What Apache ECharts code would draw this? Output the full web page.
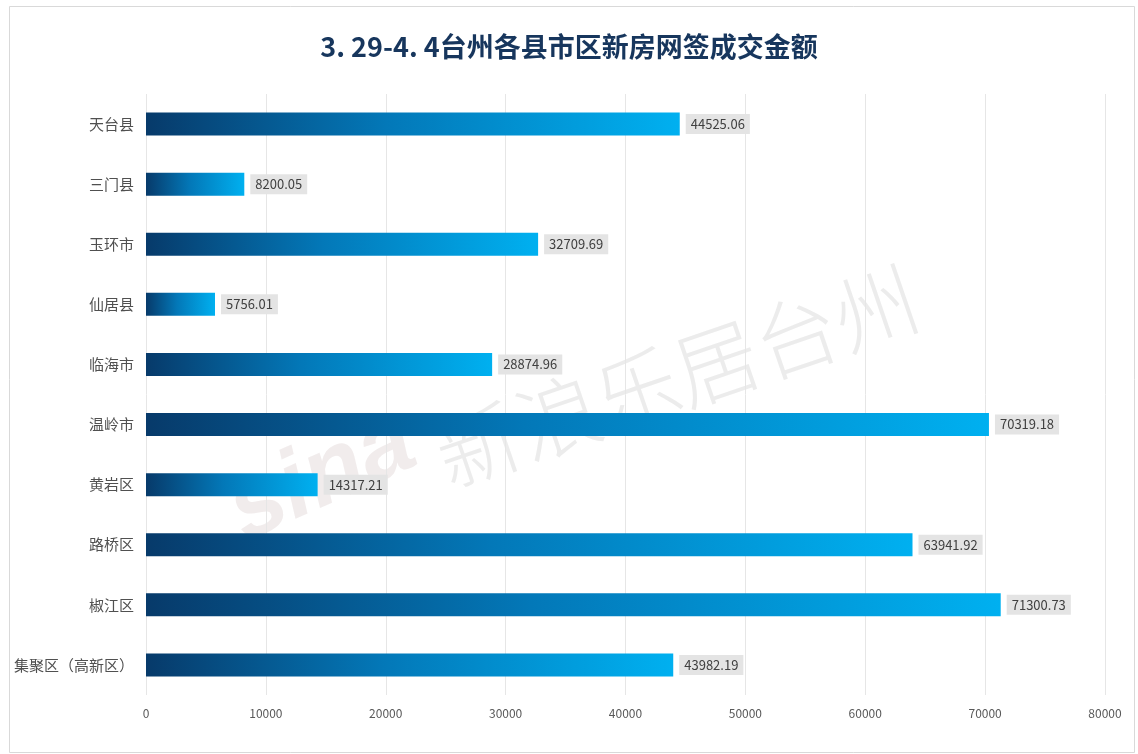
<!DOCTYPE html>
<html>
<head>
<meta charset="utf-8">
<script src="https://cdn.jsdelivr.net/npm/echarts@6/dist/echarts.min.js"></script>
<style>
  html, body { margin: 0; padding: 0; background: #fff; }
  #chart { width: 1138px; height: 754px; }
</style>
</head>
<body>
<div id="chart"></div>
<script>
  // categories listed bottom to top (category axis starts at bottom)
  var districts = ["集聚区（高新区）", "椒江区", "路桥区", "黄岩区", "温岭市", "临海市", "仙居县", "玉环市", "三门县", "天台县"];
  var amounts = [43982.19, 71300.73, 63941.92, 14317.21, 70319.18, 28874.96, 5756.01, 32709.69, 8200.05, 44525.06];
  var xTicks = [0, 10000, 20000, 30000, 40000, 50000, 60000, 70000, 80000];

  var chart = echarts.init(document.getElementById("chart"));

  var barColor = new echarts.graphic.LinearGradient(0, 0, 1, 0, [
    { offset: 0, color: "#073a6a" },
    { offset: 0.45, color: "#0378b8" },
    { offset: 1, color: "#00b0f0" }
  ]);

  var font = "'Microsoft YaHei', 'Noto Sans CJK SC', sans-serif";

  var option = {
    backgroundColor: "#ffffff",
    textStyle: { fontFamily: font },
    title: {
      text: "3. 29-4. 4台州各县市区新房网签成交金额",
      left: "center",
      top: 28,
      textStyle: {
        fontFamily: font,
        fontSize: 27,
        fontWeight: "bold",
        color: "#17365d"
      }
    },
    graphic: [
      {
        type: "rect",
        left: 7, top: 4,
        shape: { width: 1125, height: 746 },
        style: { fill: "none", stroke: "#d9d9d9", lineWidth: 1 },
        silent: true
      },
      {
        type: "text",
        left: 215, top: 395,
        rotation: 0.42,
        style: {
          text: "sina",
          font: "italic bold 96px Arial, sans-serif",
          fill: "rgba(215,200,200,0.35)"
        },
        silent: true,
        z: -1
      },
      {
        type: "text",
        left: 425, top: 255,
        rotation: 0.33,
        style: {
          text: "新浪乐居台州",
          font: "300 84px 'Noto Sans CJK SC', sans-serif",
          fill: "rgba(200,200,200,0.35)"
        },
        silent: true,
        z: -1
      }
    ],
    grid: {
      left: 146,
      right: 33,
      top: 94,
      bottom: 59,
      containLabel: false
    },
    xAxis: {
      type: "value",
      min: xTicks[0],
      max: xTicks[xTicks.length - 1],
      interval: 10000,
      axisLine: { show: false },
      axisTick: { show: false },
      splitLine: { lineStyle: { color: "#e6e6e6" } },
      axisLabel: {
        color: "#595959",
        fontSize: 12,
        margin: 12,
        formatter: function(v) { return String(v); }
      }
    },
    yAxis: {
      type: "category",
      data: districts,
      axisLine: { show: false },
      axisTick: { show: false },
      axisLabel: { color: "#505050", fontSize: 15, margin: 12 }
    },
    series: [
      {
        type: "bar",
        data: amounts,
        barWidth: 23,
        itemStyle: { color: barColor },
        label: {
          show: true,
          position: "right",
          distance: 6,
          color: "#404040",
          fontSize: 13,
          backgroundColor: "#e4e4e4",
          padding: [4, 5, 3, 5],
          formatter: function(p) {
            return p.value.toFixed(2);
          }
        }
      }
    ]
  };

  chart.setOption(option);
</script>
</body>
</html>
